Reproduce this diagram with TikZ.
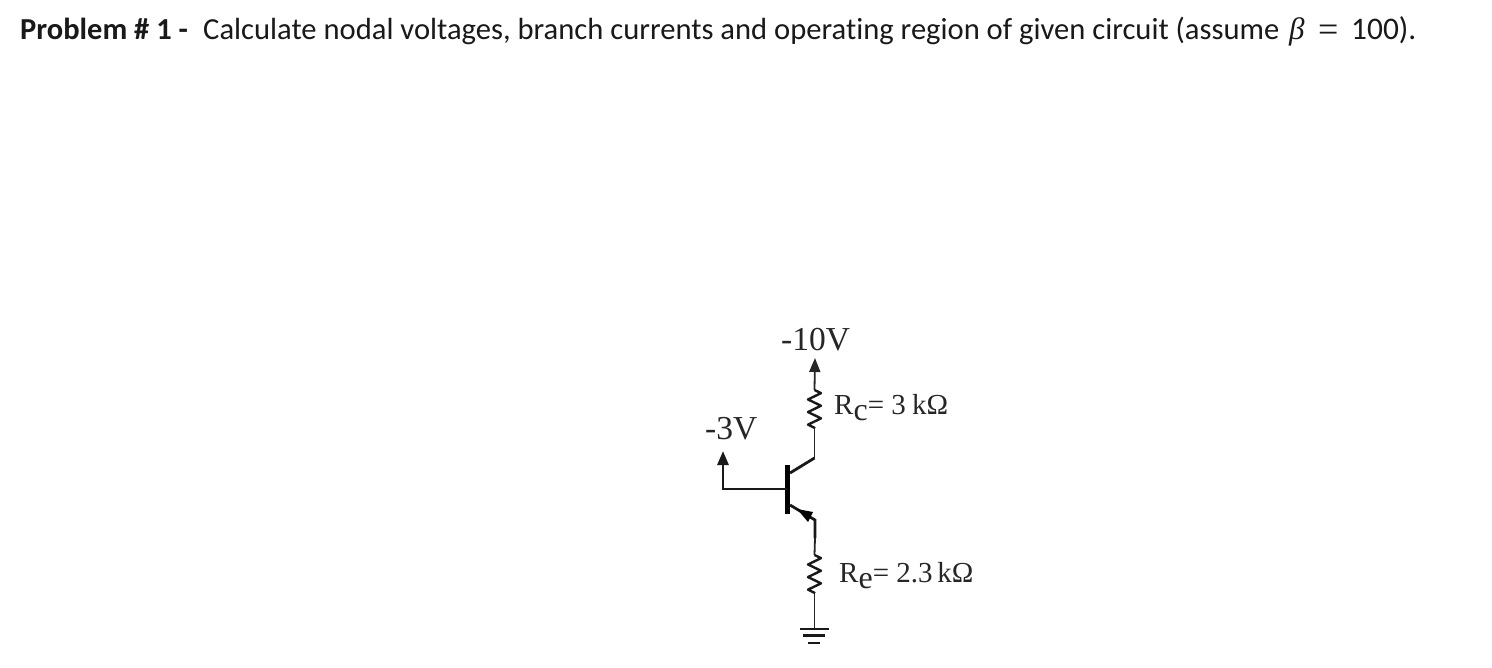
\documentclass[tikz,border=0pt]{standalone}
\usepackage{fontspec}
\setmainfont{Carlito}[Ligatures=NoCommon]
\newfontfamily\serifx{Liberation Serif}
\usetikzlibrary{decorations.pathmorphing,arrows.meta}
\tikzset{
  wire/.style={draw=black!85,line width=1.8pt},
  thickwire/.style={draw=black!90,line width=2.8pt},
  basebar/.style={draw=black,line width=5pt},
  res/.style={draw=black!90,line width=2.4pt,line join=round,decorate,decoration={zigzag,amplitude=6.5pt,segment length=12.6pt}},
  tiphead/.style={-{Triangle[length=14pt,width=11pt]}},
  title/.style={inner sep=0pt,anchor=base west,text=black!90},
  lab/.style={inner sep=0pt,anchor=base west,text=black!85,font=\serifx\fontsize{33.5}{35}\selectfont},
  rlab/.style={inner sep=0pt,anchor=base west,text=black!85,font=\serifx\fontsize{29}{31}\selectfont},
}
\newcommand{\lowsub}[1]{\raisebox{-6pt}{\fontsize{32}{34}\selectfont #1}}
\begin{document}
\begin{tikzpicture}[x=1pt,y=-1pt]
\useasboundingbox (0,0) rectangle (1492,667);
\node[title,font=\fontsize{30.5}{32}\selectfont\bfseries] (tb) at (20,39) {Problem \# 1 -};
\node[title,font=\fontsize{30.6}{33}\selectfont] (tr) at (203,39) {Calculate nodal voltages, branch currents and operating region of given circuit (assume};
\node[title,font=\serifx\itshape\fontsize{31}{33}\selectfont] (tbeta) at (1289,39) {β};
\node[title,font=\serifx\fontsize{36}{38}\selectfont] (teq) at (1318,41) {=};
\node[title,font=\fontsize{31.4}{33}\selectfont] (tend) at (1351,39) {100).};
\node[lab] (vc) at (781,350) {-10V};
\node[lab] (vb) at (705,439) {-3V};
\node[rlab] (rc) at (834,414) {R\lowsub{c}= 3\,\hspace{1.5pt}kΩ};
\node[rlab] (re) at (839,582) {R\lowsub{e}= 2.3\,kΩ};
\coordinate (ct) at (815,358);
\coordinate (r1a) at (814.5,390);
\coordinate (r1b) at (814.5,428);
\coordinate (cj) at (814.5,458);
\coordinate (cb) at (790,473);
\coordinate (bt) at (723,451);
\coordinate (bc) at (723,489);
\coordinate (bb) at (787,489);
\coordinate (bart) at (787,465);
\coordinate (barb) at (787,514);
\coordinate (eb) at (790,505);
\coordinate (ej) at (815,520);
\coordinate (ed) at (815,538);
\coordinate (r2a) at (814.5,555);
\coordinate (r2b) at (814.5,593);
\coordinate (g1) at (814.5,629);
\coordinate (g1l) at (800,629); \coordinate (g1r) at (829,629);
\coordinate (g2l) at (803,635.5); \coordinate (g2r) at (825,635.5);
\coordinate (g3l) at (808,643); \coordinate (g3r) at (820,643);
\draw[wire,tiphead] (r1a) -- (ct);
\draw[res] (r1a) -- (r1b);
\draw[wire] (r1b) -- (cj);
\draw[thickwire] (cj) -- (cb);
\draw[basebar] (bart) -- (barb);
\draw[thickwire,tiphead] (bb) -- (bc) -- (bt);
\draw[thickwire] (eb) -- (ej) -- (ed);
\fill[black] (797,509) -- (813,512) -- (808,522) -- cycle;
\draw[wire] (ed) -- (r2a);
\draw[res] (r2a) -- (r2b);
\draw[wire] (r2b) -- (g1);
\draw[thickwire] (g1l) -- (g1r);
\draw[thickwire] (g2l) -- (g2r);
\draw[thickwire] (g3l) -- (g3r);
\end{tikzpicture}
\end{document}
